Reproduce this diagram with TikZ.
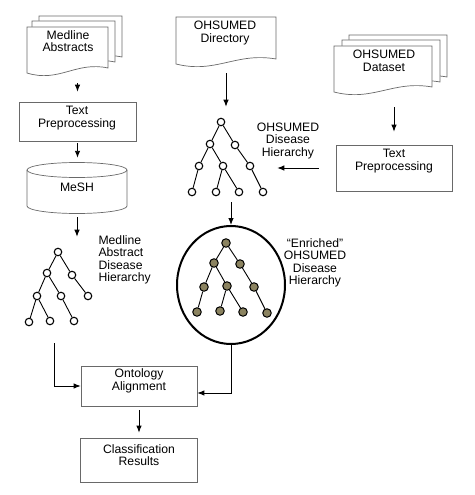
\documentclass[tikz,border=0pt]{standalone}
\usepackage{fontspec}
\setmainfont{Liberation Sans}
\usetikzlibrary{arrows.meta,shapes.geometric}
\definecolor{nodeolive}{RGB}{139,131,96}
\definecolor{boxgray}{RGB}{105,105,105}
\begin{document}
\begin{tikzpicture}[x=1pt,y=-1pt,
    font=\fontsize{12.2}{12.5}\selectfont,
    arr/.style={-{Latex[length=7pt,width=5.5pt]},line width=0.9pt},
    box/.style={draw=boxgray,line width=0.7pt,inner sep=0pt},
    sheet/.style={draw=boxgray,line width=0.7pt,fill=white},
    hole/.style={draw,circle,line width=1.1pt,minimum size=7.5pt,inner sep=0pt},
    seed/.style={draw,circle,line width=1pt,fill=nodeolive,minimum size=8.5pt,inner sep=0pt},
    twig/.style={line width=0.9pt}]
    \useasboundingbox (0,0) rectangle (474,495);
    % document stacks
    \draw[sheet] (122,57) .. controls (89,50) and (72,72) .. (39,62) -- (39,16) -- (122,16) -- cycle;
    \draw[sheet] (115,62) .. controls (82,55) and (65,77) .. (32,67) -- (32,21) -- (115,21) -- cycle;
    \draw[sheet] (108,68) .. controls (76,61) and (59,83) .. (27,73) -- (27,27) -- (108,27) -- cycle;
    \draw[sheet] (276,59) .. controls (236,52) and (216,74) .. (176,64) -- (176,17) -- (276,17) -- cycle;
    \draw[sheet] (447,77) .. controls (408,70) and (388,92) .. (349,82) -- (349,35) -- (447,35) -- cycle;
    \draw[sheet] (440,82) .. controls (401,75) and (381,97) .. (342,87) -- (342,40) -- (440,40) -- cycle;
    \draw[sheet] (432,87) .. controls (393,80) and (373,102) .. (334,92) -- (334,46) -- (432,46) -- cycle;
    \node[inner sep=0pt,minimum width=81pt,minimum height=46pt] at (67.5,50) (mabs) {};
    \node[inner sep=0pt,minimum width=100pt,minimum height=47pt] at (226,40.5) (dir) {};
    \node[inner sep=0pt,minimum width=98pt,minimum height=46pt] at (383,69) (data) {};
    \node[align=center] at (68,41) (mabst) {Medline\\Abstracts};
    \node[align=center] at (225,33) (dirt) {OHSUMED\\Directory};
    \node[align=center] at (384,61) (datat) {OHSUMED\\Dataset};
    % boxes
    \node[box,minimum width=117pt,minimum height=39pt] at (77.5,121.5) (tp1) {};
    \node[box,minimum width=116pt,minimum height=46pt] at (394,168) (tp2) {};
    \node[box,minimum width=116pt,minimum height=40pt] at (139,386) (onto) {};
    \node[box,minimum width=117pt,minimum height=44pt] at (138.5,460) (cls) {};
    \node[align=center] at (77,118) (tp1t) {Text\\Preprocessing};
    \node[align=center] at (394,161) (tp2t) {Text\\Preprocessing};
    \node[align=center] at (139,381) (ontot) {Ontology\\Alignment};
    \node[align=center] at (139,455) (clst) {Classification\\Results};
    % MeSH cylinder
    \draw[draw=boxgray,line width=0.7pt] (77,170) ellipse [x radius=50pt,y radius=7.5pt];
    \draw[draw=boxgray,line width=0.7pt] (27,170) -- (27,206)
      arc[start angle=180,end angle=360,x radius=50pt,y radius=7.5pt] -- (127,170);
    \node[inner sep=0pt,minimum width=100pt,minimum height=51pt] at (77,187.5) (mesh) {};
    \node at (77,187) (mesht) {MeSH};
    % Medline tree
    \node[hole] at (58,252) (m0) {};
    \node[hole] at (47,273) (m1) {};
    \node[hole] at (72,275) (m2) {};
    \node[hole] at (37,296) (m3) {};
    \node[hole] at (61,296) (m4) {};
    \node[hole] at (88,296) (m5) {};
    \node[hole] at (29,322) (m6) {};
    \node[hole] at (50,321) (m7) {};
    \node[hole] at (74,321) (m8) {};
    \draw[twig] (m0) -- (m1);
    \draw[twig] (m0) -- (m2);
    \draw[twig] (m1) -- (m3);
    \draw[twig] (m1) -- (m4);
    \draw[twig] (m2) -- (m5);
    \draw[twig] (m3) -- (m6);
    \draw[twig] (m3) -- (m7);
    \draw[twig] (m4) -- (m8);
    \node[align=left,anchor=west] at (95,260) (mlab) {Medline\\Abstract\\Disease\\Hierarchy};
    % OHSUMED tree
    \node[hole] at (221,122) (o0) {};
    \node[hole] at (210,144) (o1) {};
    \node[hole] at (235,145) (o2) {};
    \node[hole] at (199,166) (o3) {};
    \node[hole] at (223,166) (o4) {};
    \node[hole] at (250,166) (o5) {};
    \node[hole] at (192,192) (o6) {};
    \node[hole] at (216,192) (o7) {};
    \node[hole] at (239,192) (o8) {};
    \node[hole] at (263,192) (o9) {};
    \draw[twig] (o0) -- (o1);
    \draw[twig] (o0) -- (o2);
    \draw[twig] (o1) -- (o3);
    \draw[twig] (o1) -- (o4);
    \draw[twig] (o2) -- (o5);
    \draw[twig] (o3) -- (o6);
    \draw[twig] (o4) -- (o7);
    \draw[twig] (o4) -- (o8);
    \draw[twig] (o5) -- (o9);
    \node[align=center] at (288,141) (olab) {OHSUMED\\Disease\\Hierarchy};
    % enriched tree
    \node[draw,ellipse,line width=2pt,minimum width=108pt,minimum height=118pt] at (231,285) (enrich) {};
    \node[seed] at (226,243) (e0) {};
    \node[seed] at (214,263) (e1) {};
    \node[seed] at (240,264) (e2) {};
    \node[seed] at (204,287) (e3) {};
    \node[seed] at (227,286) (e4) {};
    \node[seed] at (254,287) (e5) {};
    \node[seed] at (197,312) (e6) {};
    \node[seed] at (220,311) (e7) {};
    \node[seed] at (243,312) (e8) {};
    \node[seed] at (267,313) (e9) {};
    \draw[twig] (e0) -- (e1);
    \draw[twig] (e0) -- (e2);
    \draw[twig] (e1) -- (e3);
    \draw[twig] (e1) -- (e4);
    \draw[twig] (e2) -- (e5);
    \draw[twig] (e3) -- (e6);
    \draw[twig] (e4) -- (e7);
    \draw[twig] (e4) -- (e8);
    \draw[twig] (e5) -- (e9);
    \node[align=center] at (315,263) (elab) {“Enriched”\\OHSUMED\\Disease\\Hierarchy};
    % arrows
    \draw[arr,shorten <=10pt,shorten >=10pt] (mabs.south -| tp1.north) -- (tp1.north);
    \draw[arr,shorten <=2pt,shorten >=4pt] (tp1.south) -- (tp1.south |- mesh.north);
    \draw[arr,shorten <=4pt,shorten >=11pt] (mesh.south) -- (mesh.south |- m0.north);
    \draw[arr,shorten <=9pt,shorten >=11pt] (dir.south) -- (dir.south |- o0.north);
    \draw[arr,shorten <=15pt,shorten >=13pt] (data.south -| tp2.north) -- (tp2.north);
    \draw[arr,shorten <=17pt,shorten >=23pt] (tp2.west) -- (tp2.west -| o5.east);
    \draw[arr,shorten <=6pt] (enrich.north |- o7.south) -- (enrich.north);
    \draw[arr,shorten <=18pt] ([xshift=4pt]m7.south) |- (onto.west);
    \draw[arr] (enrich.south) |- ([yshift=-7pt]onto.east);
    \draw[arr,shorten <=4pt,shorten >=5pt] (onto.south) -- (onto.south |- cls.north);
\end{tikzpicture}
\end{document}
